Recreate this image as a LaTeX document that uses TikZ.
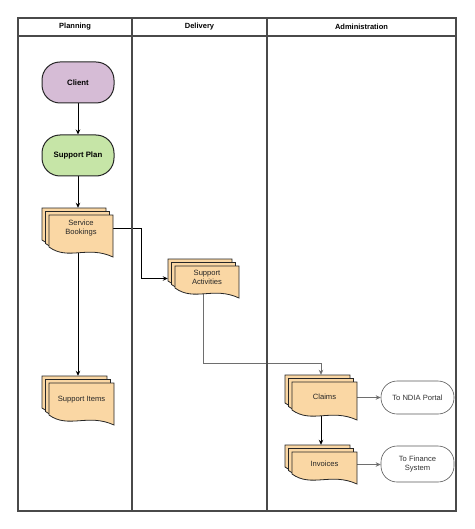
\documentclass[tikz,border=0pt]{standalone}
\usepackage{fontspec}
\setmainfont{Liberation Sans}
\usetikzlibrary{arrows.meta,calc}
\pgfdeclarelayer{background}
\pgfsetlayers{background,main}
\definecolor{framec}{HTML}{4A4A4A}
\definecolor{docfill}{HTML}{FAD7A4}
\definecolor{clientfill}{HTML}{D6BCD6}
\definecolor{planfill}{HTML}{C6E5A7}
\definecolor{linegray}{HTML}{6E6E6E}
\tikzset{
 frame/.style={draw=framec, line width=1.1pt},
 hdr/.style={font=\bfseries\fontsize{7.5}{9}\selectfont, inner sep=0},
 term/.style={draw=black!85, line width=1pt, rounded corners=18pt, minimum width=72pt, minimum height=41pt, font=\bfseries\fontsize{7.8}{9}\selectfont, inner sep=0},
 ext/.style={draw=black!65, line width=0.6pt, rounded corners=16pt, minimum width=73pt, fill=white, font=\fontsize{7.6}{9.5}\selectfont, text=black!80, align=center, inner sep=0},
 docsheet/.style={fill=docfill, draw=black!85, line width=0.8pt},
 doctext/.style={font=\fontsize{7.6}{9.5}\selectfont, text=black!85, align=center, inner sep=0},
 conn/.style={draw=black, line width=0.8pt, -{Stealth[length=5pt,width=4.5pt]}},
 conng/.style={conn, draw=linegray},
}
\newcommand\docstack[7]{%
  \foreach \k in {0,1,2}{%
    \pgfmathsetmacro\ox{#2+3.5*\k}%
    \pgfmathsetmacro\oy{#3+3.5*\k}%
    \pgfmathsetmacro\xr{\ox+#4}%
    \pgfmathsetmacro\yb{\oy+#5}%
    \pgfmathsetmacro\ya{\yb-12}%
    \pgfmathsetmacro\yc{\yb+4}%
    \pgfmathsetmacro\yl{\yb-10}%
    \pgfmathsetmacro\xa{\ox+0.6*#4}%
    \pgfmathsetmacro\xc{\ox+0.3*#4}%
    \filldraw[docsheet] (\ox,\oy) -- (\xr,\oy) -- (\xr,\yb) .. controls (\xa,\ya) and (\xc,\yc) .. (\ox,\yl) -- cycle;
  }%
  \pgfmathsetmacro\cx{#2+(#4+7)/2}%
  \pgfmathsetmacro\cy{#3+(#5+7)/2}%
  \pgfmathsetmacro\bw{#4+7}%
  \pgfmathsetmacro\bh{#5+7}%
  \node[inner sep=0, minimum width=\bw pt, minimum height=\bh pt] (#1) at (\cx,\cy) {};
  \pgfmathsetmacro\tx{#2+7+#4/2}%
  \pgfmathsetmacro\ty{#3+7+#6}%
  \node[doctext] (#1-t) at (\tx,\ty) {#7};
}
\begin{document}
\begin{tikzpicture}[x=1pt,y=-1pt]
\useasboundingbox (0,0) rectangle (474,529);
% swimlane frame
\draw[frame] (18,18) rectangle (456,511);
\draw[frame] (18,36) -- (456,36);
\draw[frame] (132,18) -- (132,511);
\draw[frame] (267,18) -- (267,511);
\node[hdr] (h1) at (75,27) {Planning};
\node[hdr] (h2) at (199.5,27) {Delivery};
\node[hdr] (h3) at (361.5,27) {Administration};
% terminals
\node[term, fill=clientfill] (client) at (78,82.5) {Client};
\node[term, fill=planfill] (sp) at (78,155.5) {Support Plan};
% document stacks
\docstack{sb}{42}{208}{64}{42}{13}{Service\\Bookings}
\docstack{sa}{168}{259}{64}{32}{11.5}{Support\\Activities}
\docstack{si}{42}{376}{65}{42}{17}{Support Items}
\docstack{cl}{285}{375}{65}{38}{15}{Claims}
\docstack{inv}{285}{445}{65}{32}{11.5}{Invoices}
% external
\node[ext, minimum height=33pt] (ndia) at (417.5,397.5) {To NDIA Portal};
\node[ext, minimum height=36pt] (fin) at (417.5,464) {To Finance\\System};
% connectors
\coordinate (j1) at (141,0);
\coordinate (j2) at (0,363);
\begin{pgfonlayer}{background}
\draw[conn] (client) -- (sp);
\draw[conn] (sp.south) -- (sp.south |- sb.north);
\draw[conn] (si.north |- sb.center) -- (si.north);
\draw[conn] (sb.east |- sb-t) -| (j1 |- sa.west) -- (sa.west);
\draw[conng] (sa.center) |- (j2 -| cl.north) -- (cl.north);
\draw[conn] (cl.center) -- (inv.north);
\draw[conng] (cl.east) -- (ndia.west);
\draw[conng] (inv.east) -- (inv.east -| fin.west);
\end{pgfonlayer}
\end{tikzpicture}
\end{document}
